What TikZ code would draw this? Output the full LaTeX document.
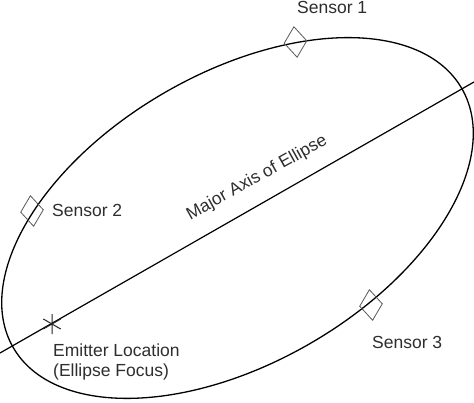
\documentclass[tikz,border=0pt]{standalone}
\usepackage{fontspec}
\setmainfont{Liberation Sans}
\usetikzlibrary{shapes.geometric,calc}
\begin{document}
\begin{tikzpicture}[x=1pt,y=1pt,
  lbl/.style={inner sep=0pt, text=black!82, font=\fontsize{17.5}{20}\selectfont},
  sensor/.style={draw=black!65, line width=0.8pt, diamond, minimum width=23pt, minimum height=31pt, inner sep=0pt, rotate=6},
  curve/.style={draw=black, line width=1.3pt},
  axis/.style={draw=black, line width=1.2pt}]
\useasboundingbox (0,0) rectangle (474,402);
\fill[white] (0,0) rectangle (474,402);
% ellipse
\coordinate (ctr) at (237.5,184);
\draw[curve, rotate around={30:(ctr)}] (ctr) ellipse [x radius=259, y radius=145];
% major axis
\coordinate (axL) at (0,49);
\coordinate (axR) at (474,320);
\draw[axis] (axL) -- (axR);
\node[lbl, rotate=29] (axlabel) at (257,224) {Major Axis of Ellipse};
% sensors
\node[sensor] (s1) at (295.5,360) {};
\node[sensor] (s2) at (32,191) {};
\node[sensor] (s3) at (371,97) {};
\node[lbl, anchor=base west] (l1) at (297,388) {Sensor 1};
\node[lbl, anchor=base west] (l2) at (52,185) {Sensor 2};
\node[lbl, anchor=base west] (l3) at (372,54) {Sensor 3};
% emitter
\coordinate (em) at (52,78);
\draw[black!85, line width=1pt] ($(em)+(0,10)$) -- ($(em)+(0,-10)$)
  ($(em)+(30:10)$) -- ($(em)+(210:10)$)
  ($(em)+(150:10)$) -- ($(em)+(330:10)$);
\node[lbl, anchor=north west, align=left] (emlabel) at (53,58) {Emitter Location\\(Ellipse Focus)};
\end{tikzpicture}
\end{document}
